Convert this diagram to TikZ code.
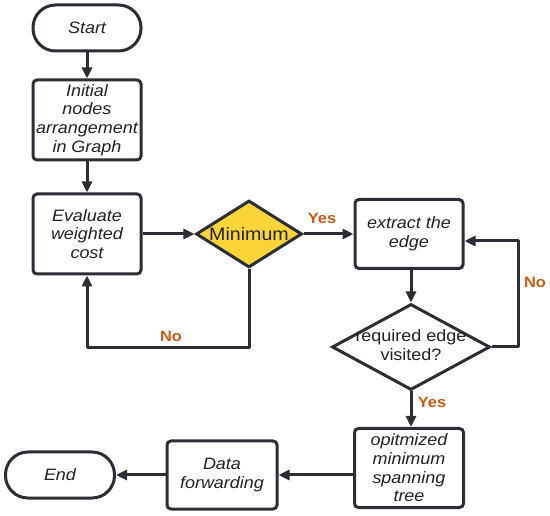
\documentclass[tikz,border=0pt]{standalone}
\usepackage{fontspec}
\setmainfont{Liberation Sans}[FakeStretch=1.09]
\usetikzlibrary{arrows.meta,shapes.geometric,calc}
\definecolor{ink}{HTML}{2B2E35}
\definecolor{txt}{HTML}{222226}
\definecolor{ylw}{HTML}{F9D53A}
\definecolor{org}{HTML}{C75A14}
\begin{document}
\begin{tikzpicture}[x=1pt,y=-1pt,
  every node/.style={text=txt},
  base/.style={draw=ink, line width=3pt, inner sep=0pt, align=center,
    font=\fontsize{16.5}{18.6}\selectfont\itshape},
  procbox/.style={base, rectangle, rounded corners=4pt},
  term/.style={base, rectangle, rounded corners=22.5pt, minimum width=108pt, minimum height=46pt},
  decide/.style={base, diamond, font=\fontsize{16.5}{19}\selectfont},
  conn/.style={draw=ink, line width=3pt, line join=round, -{Triangle[length=11pt,width=10pt]}},
  lab/.style={text=org, font=\fontsize{15}{16}\selectfont\bfseries}]
\useasboundingbox (0,0) rectangle (550,516);

\node[term] (start) at (87,28) {Start};
\node[procbox, minimum width=108pt, minimum height=80pt] (init) at (87,120) {Initial\\nodes\\arrangement\\in Graph};
\node[procbox, minimum width=108pt, minimum height=80pt] (eval) at (87,234) {Evaluate\\weighted\\cost};
\node[decide, fill=ylw, minimum width=106pt, minimum height=67pt, font=\fontsize{18}{19}\selectfont] (mind) at (249,234) {\makebox[0pt]{Minimum}};
\node[procbox, minimum width=108pt, minimum height=69pt] (extract) at (409,234) {extract the\\edge};
\node[decide, fill=white, minimum width=158pt, minimum height=86pt] (visit) at (411,347) {\makebox[0pt]{\begin{tabular}{@{}c@{}}required edge\\visited?\end{tabular}}};
\node[procbox, minimum width=109pt, minimum height=79pt] (opt) at (409,468) {opitmized\\minimum\\spanning\\tree};
\node[procbox, minimum width=110pt, minimum height=68pt] (data) at (222,475) {Data\\forwarding};
\node[term, minimum width=109pt] (end) at (60,475) {End};

\coordinate (nobot) at (249,348);
\coordinate (noright) at (518,241);

\draw[conn] (start) -- (init);
\draw[conn] (init) -- (eval);
\draw[conn] (eval) -- (mind);
\draw[conn] (mind) -- (extract);
\draw[conn] (mind.south) -- (nobot) -| (eval.south);
\draw[conn] (extract.south -| visit.north) -- (visit.north);
\draw[conn] (visit.east) -| (noright) -- (extract.east |- noright);
\draw[conn] (visit.south) -- (opt.north -| visit.south);
\draw[conn] (opt.west |- data.east) -- (data.east);
\draw[conn] (data) -- (end);

\node[lab] (yes1) at (322,218) {Yes};
\node[lab] (no1) at (171,336) {No};
\node[lab] (no2) at (535,282) {No};
\node[lab] (yes2) at (432,402) {Yes};
\end{tikzpicture}
\end{document}
